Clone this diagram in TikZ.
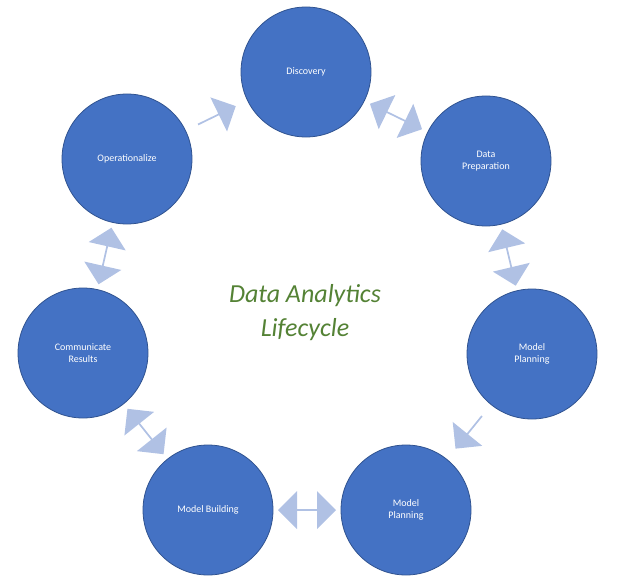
\documentclass[tikz,border=0pt]{standalone}
\usepackage{fontspec}
\setmainfont{Carlito}
\usetikzlibrary{shapes.arrows,calc}
\definecolor{cblue}{HTML}{4472C4}
\definecolor{cedge}{HTML}{2F528F}
\definecolor{abl}{HTML}{B0C1E4}
\definecolor{tgreen}{HTML}{548235}
\tikzset{
  stage/.style={circle,fill=cblue,draw=cedge,line width=0.8pt,minimum size=130pt,inner sep=0pt,text=white,font=\fontsize{10}{12}\selectfont,align=center},
  darr/.style={double arrow,fill=abl,minimum height=58pt,minimum width=38pt,double arrow head extend=6pt,inner sep=0pt,shape border uses incircle},
  sarr/.style={single arrow,fill=abl,minimum height=42pt,minimum width=38pt,single arrow head extend=6pt,inner sep=0pt,shape border uses incircle}
}
\begin{document}
\begin{tikzpicture}[x=1pt,y=-1pt]
\useasboundingbox (0,0) rectangle (619,586);
\node[stage] (d) at (306,72) {Discovery};
\node[stage] (p) at (486,161) {Data\\Preparation};
\node[stage] (m1) at (532,354) {Model\\Planning};
\node[stage] (m2) at (406,510) {Model\\Planning};
\node[stage] (b) at (208,510) {Model Building};
\node[stage] (c) at (83,353) {Communicate\\Results};
\node[stage] (o) at (127,159) {Operationalize};
\node[text=tgreen,font=\itshape\fontsize{26}{34}\selectfont,align=center] (t) at (305,313) {Data Analytics\\Lifecycle};
\node[sarr,rotate=26] (a1) at ($(o)!0.5!(d)$) {};
\node[darr,rotate=-26] (a2) at ($(d)!0.5!(p)$) {};
\node[darr,rotate=-76.6] (a3) at ($(p)!0.5!(m1)$) {};
\node[sarr,rotate=-129] (a4) at ($(m1)!0.5!(m2)$) {};
\node[darr] (a5) at ($(b)!0.5!(m2)$) {};
\node[darr,rotate=-51.5] (a6) at ($(c)!0.5!(b)$) {};
\node[darr,rotate=-102.8] (a7) at ($(o)!0.5!(c)$) {};
\end{tikzpicture}
\end{document}
